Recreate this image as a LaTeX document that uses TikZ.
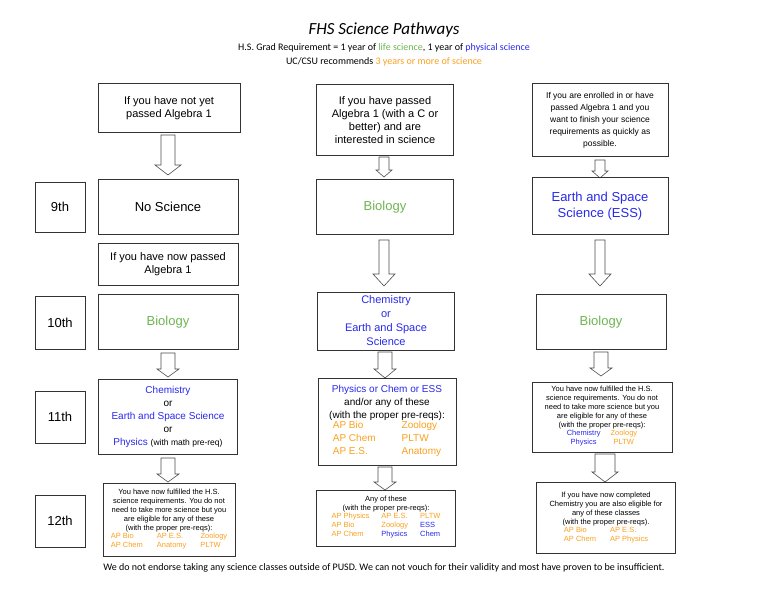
\documentclass[tikz,border=0pt]{standalone}
\usepackage{fontspec}
\setmainfont{Liberation Sans}
\newfontfamily\carfont{Carlito}
\definecolor{bl}{RGB}{40,40,235}
\definecolor{og}{RGB}{250,160,30}
\definecolor{gr}{RGB}{110,180,80}
\tikzset{
 bx/.style={draw=black!80,line width=0.9pt,align=center,inner sep=1pt},
 gl/.style={draw=black!80,line width=0.9pt,font=\fontsize{13}{15}\selectfont},
 ar/.style={draw=black!70,fill=white,line width=0.6pt,line join=miter},
 sm/.style={font=\fontsize{7.5}{9}\selectfont},
 md/.style={font=\fontsize{11}{13}\selectfont},
 bg/.style={font=\fontsize{13}{15}\selectfont},
}
% block arrow: x, ytop, ybottom, shaft half width, head half width, head length
\newcommand\blockarr[6]{\draw[ar] (#1-#4,#2) -- (#1+#4,#2) -- (#1+#4,#3-#6) -- (#1+#5,#3-#6) -- (#1,#3) -- (#1-#5,#3-#6) -- (#1-#4,#3-#6) -- cycle;}
\begin{document}
\begin{tikzpicture}[x=1pt,y=-1pt]
\useasboundingbox (0,0) rectangle (768,594);
% title
\node (t) at (384,30) {\fontsize{17}{19}\selectfont\itshape\carfont FHS Science Pathways};
\node (t2) at (384,48) {\carfont\fontsize{10}{12}\selectfont H.S. Grad Requirement = 1 year of \textcolor{gr}{life science}, 1 year of \textcolor{bl}{physical science}};
\node (t3) at (384,62) {\carfont\fontsize{10}{12}\selectfont UC/CSU recommends \textcolor{og}{3 years or more of science}};
% grade labels
\node[gl,minimum width=50pt,minimum height=50pt] (g9) at (60,207) {9th};
\node[gl,minimum width=50pt,minimum height=53pt] (g10) at (60,323) {10th};
\node[gl,minimum width=50pt,minimum height=52pt] (g11) at (60,417) {11th};
\node[gl,minimum width=50pt,minimum height=52pt] (g12) at (60,521) {12th};
% arrows
\blockarr{168}{135}{175}{7}{13}{10}
\blockarr{168}{353}{377}{7}{11}{8}
\blockarr{168}{458}{482}{7}{11}{8}
\blockarr{384}{157}{177}{5}{8}{7}
\blockarr{384}{240}{286}{5}{11}{12}
\blockarr{385}{352}{378}{7}{11}{9}
\blockarr{385}{467}{490}{7}{11}{8}
\blockarr{600}{160}{178}{5}{8}{7}
\blockarr{600}{240}{286}{5}{11}{12}
\blockarr{601}{352}{376}{7}{11}{8}
\blockarr{605}{454}{482}{10}{13}{10}
% column 1
\node[bx,md,minimum width=142pt,minimum height=49pt] (a1) at (169,108) {If you have not yet\\passed Algebra 1};
\node[bx,bg,minimum width=140pt,minimum height=55pt] (a2) at (168,207) {No Science};
\node[bx,md,minimum width=140pt,minimum height=42pt] (a3) at (168,264) {If you have now passed\\Algebra 1};
\node[bx,bg,minimum width=140pt,minimum height=55pt,text=gr] (a4) at (168,322) {Biology};
\node[bx,font=\fontsize{10}{13}\selectfont,minimum width=139pt,minimum height=75pt] (a5) at (168,417) {\textcolor{bl}{Chemistry}\\or\\\textcolor{bl}{Earth and Space Science}\\or\\\textcolor{bl}{Physics} {\fontsize{8.5}{10}\selectfont(with math pre-req)}};
\node[bx,sm,minimum width=132pt,minimum height=73pt] (a6) at (169,520) {You have now fulfilled the H.S.\\science requirements.  You do not\\need to take more science but you\\are eligible for any of these\\(with the proper pre-reqs):\\[-1pt]
\textcolor{og}{\begin{tabular}{@{}l@{\hspace{14pt}}l@{\hspace{14pt}}l@{}}AP Bio&AP E.S.&Zoology\\AP Chem&Anatomy&PLTW\end{tabular}}};
% column 2
\node[bx,md,minimum width=137pt,minimum height=71pt] (b1) at (385,120) {If you have passed\\Algebra 1 (with a C or\\better) and are\\interested in science};
\node[bx,bg,minimum width=137pt,minimum height=55pt,text=gr] (b2) at (385,207) {Biology};
\node[bx,md,minimum width=137pt,minimum height=58pt,text=bl,font=\fontsize{11}{14}\selectfont] (b3) at (386,321) {Chemistry\\or\\Earth and Space\\Science};
\node[bx,font=\fontsize{10}{13}\selectfont,minimum width=138pt,minimum height=87pt] (b4) at (387,422) {\textcolor{bl}{Physics or Chem or ESS}\\and/or any of these\\(with the proper pre-reqs):\\[-2pt]
\textcolor{og}{\begin{tabular}{@{}l@{\hspace{26pt}}l@{}}AP Bio&Zoology\\AP Chem&PLTW\\AP E.S.&Anatomy\end{tabular}}};
\node[bx,sm,minimum width=139pt,minimum height=56pt] (b5) at (386,518) {Any of these\\(with the proper pre-reqs):\\[-1pt]
\begin{tabular}{@{}l@{\hspace{12pt}}l@{\hspace{12pt}}l@{}}\textcolor{og}{AP Physics}&\textcolor{og}{AP E.S.}&\textcolor{og}{PLTW}\\\textcolor{og}{AP Bio}&\textcolor{og}{Zoology}&\textcolor{bl}{ESS}\\\textcolor{og}{AP Chem}&\textcolor{bl}{Physics}&\textcolor{bl}{Chem}\end{tabular}};
% column 3
\node[bx,font=\fontsize{8.5}{12}\selectfont,minimum width=136pt,minimum height=73pt] (c1) at (600,120) {If you are enrolled in or have\\passed Algebra 1 and you\\want to finish your science\\requirements as quickly as\\possible.};
\node[bx,minimum width=136pt,minimum height=57pt,font=\fontsize{13}{16}\selectfont,text=bl] (c2) at (600,206) {Earth and Space\\Science (ESS)};
\node[bx,bg,minimum width=130pt,minimum height=55pt,text=gr] (c3) at (601,322) {Biology};
\node[bx,sm,minimum width=140pt,minimum height=70pt] (c4) at (602,417) {You have now fulfilled the H.S.\\science requirements.  You do not\\need to take more science but you\\are eligible for any of these\\(with the proper pre-reqs):\\[-1pt]
\begin{tabular}{@{}c@{\hspace{10pt}}c@{}}\textcolor{bl}{Chemistry}&\textcolor{og}{Zoology}\\\textcolor{bl}{Physics}&\textcolor{og}{PLTW}\end{tabular}};
\node[bx,sm,minimum width=139pt,minimum height=71pt] (c5) at (606,518) {If you have now completed\\Chemistry you are also eligible for\\any of these classes\\(with the proper pre-reqs).\\[-1pt]
\textcolor{og}{\begin{tabular}{@{}l@{\hspace{14pt}}l@{}}AP Bio&AP E.S.\\AP Chem&AP Physics\end{tabular}}};
% footer
\node (f) at (384,568) {\carfont\fontsize{10}{12}\selectfont We do not endorse taking any science classes outside of PUSD.  We can not vouch for their validity and most have proven to be insufficient.};
\end{tikzpicture}
\end{document}
